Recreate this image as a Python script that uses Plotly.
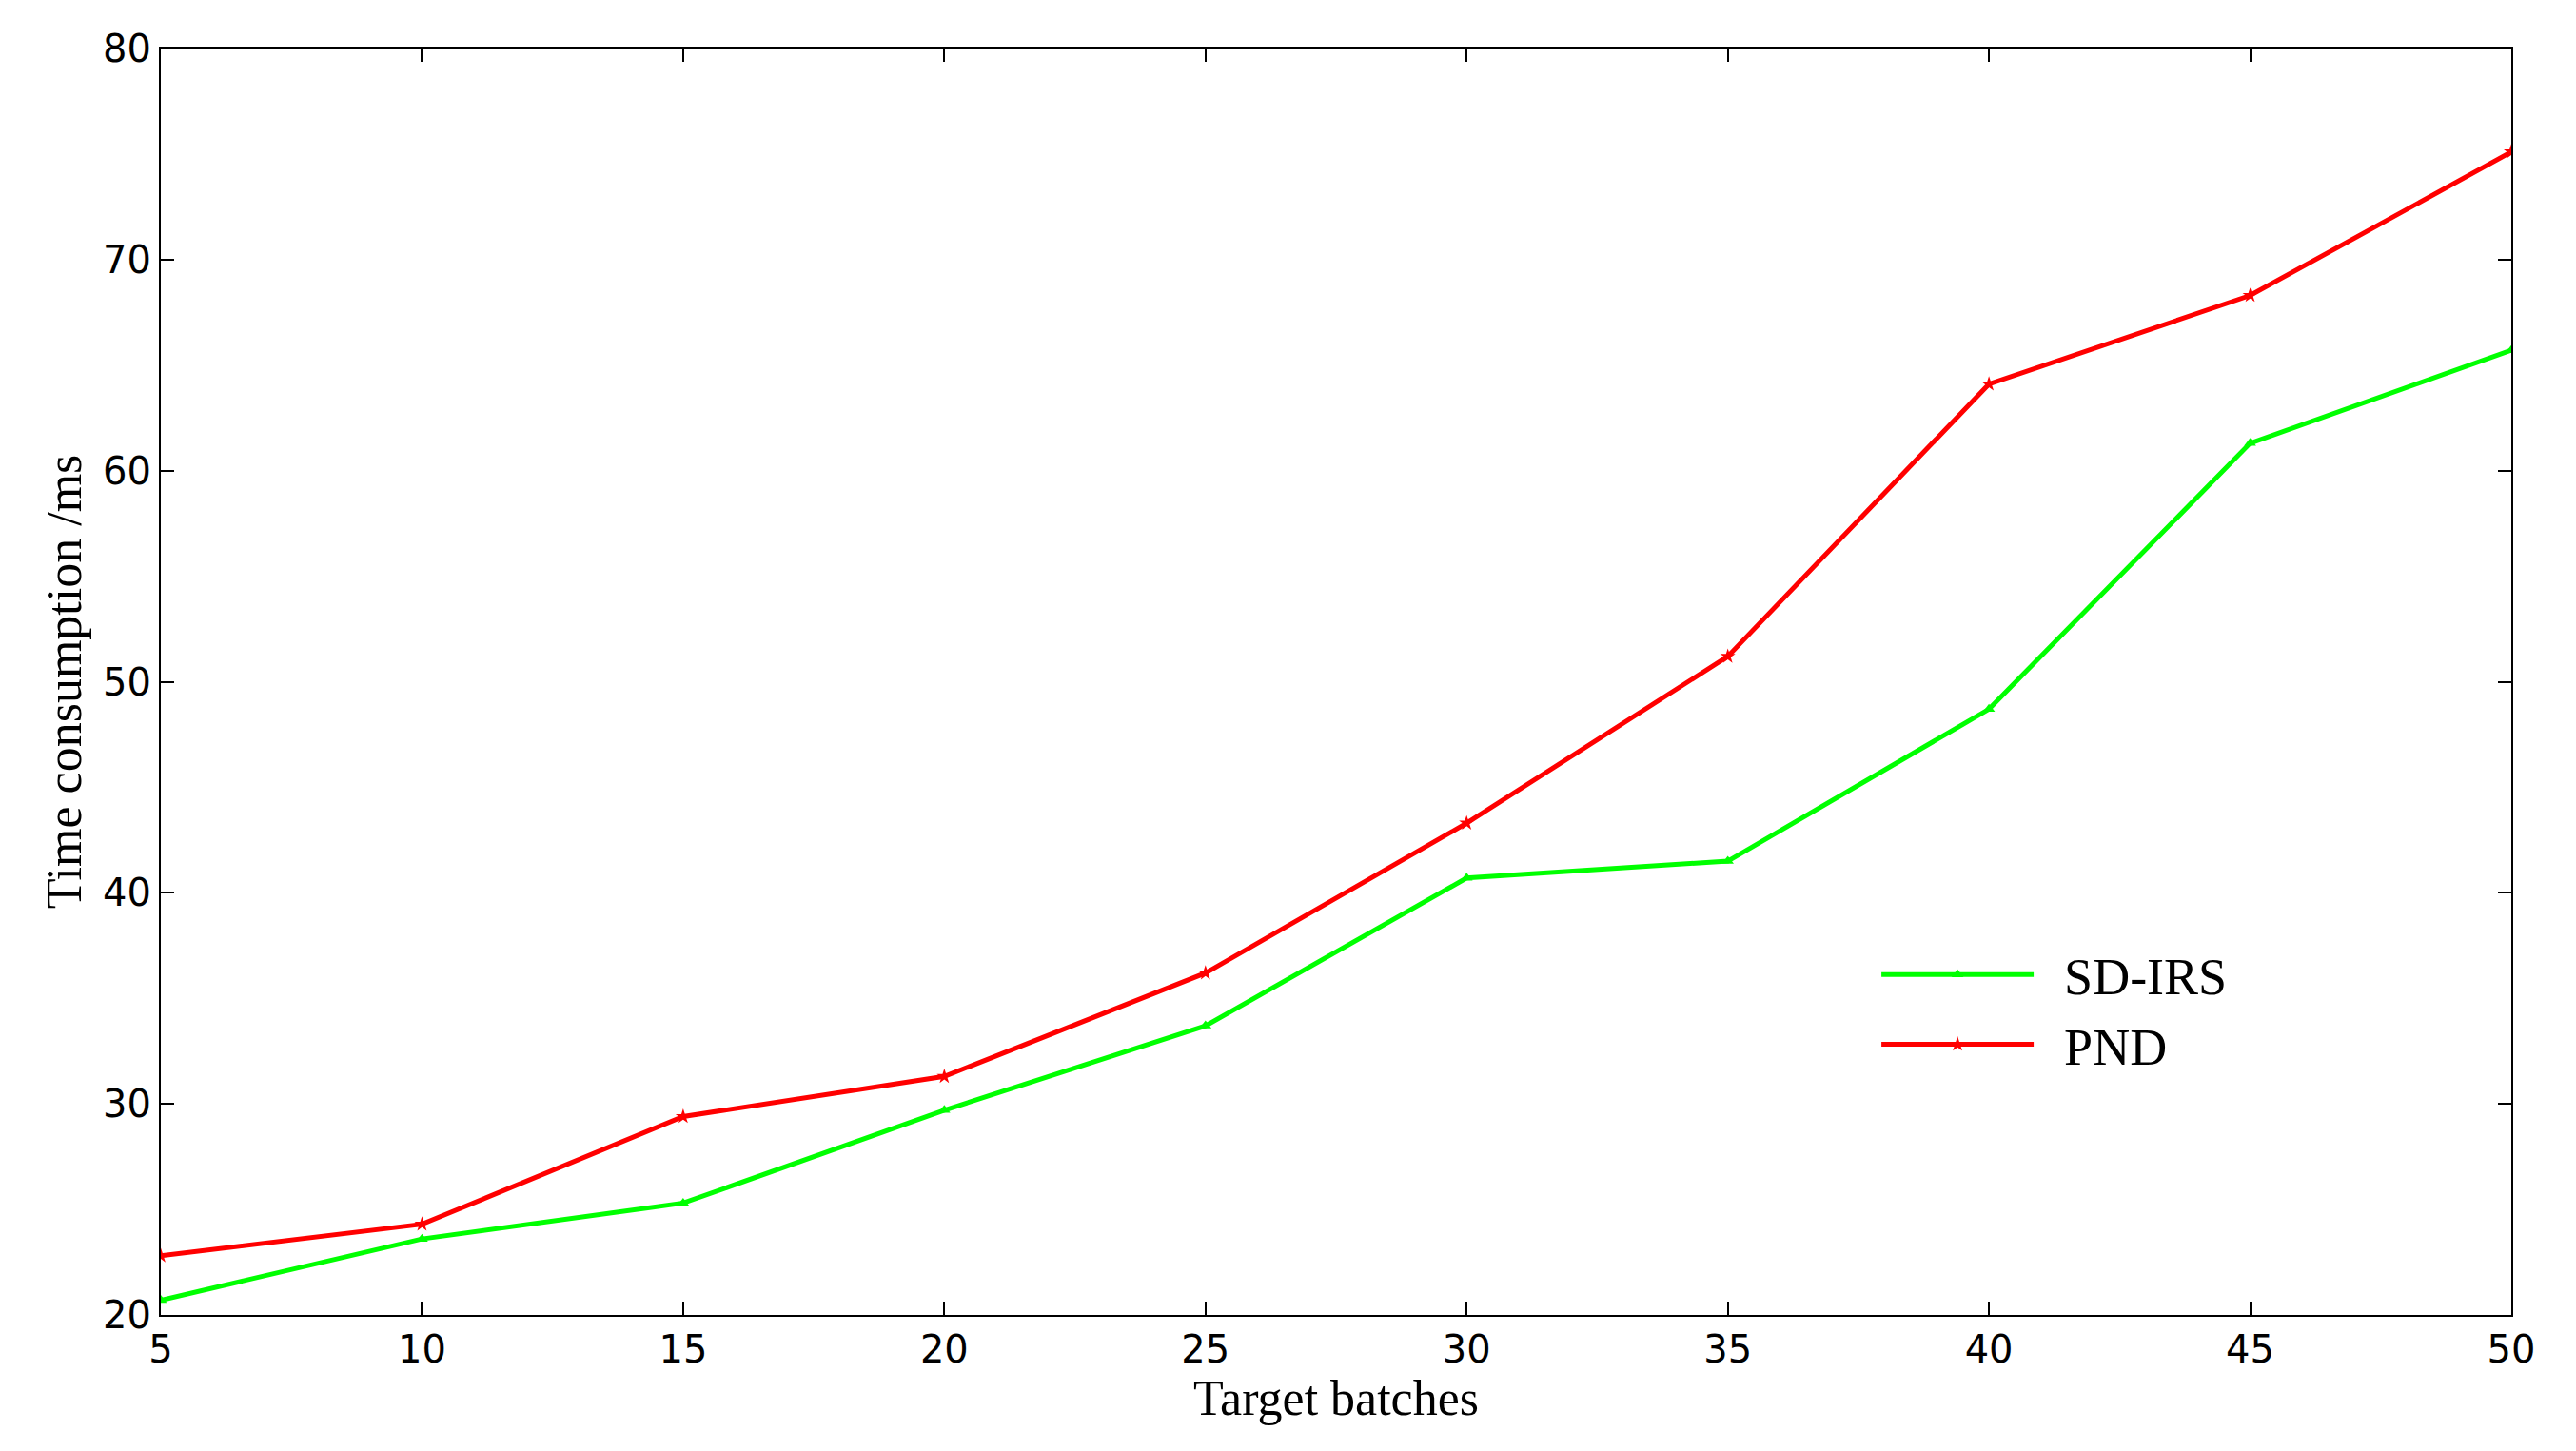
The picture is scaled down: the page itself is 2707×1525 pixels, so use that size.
import plotly.graph_objects as go

batches = [5, 10, 15, 20, 25, 30, 35, 40, 45, 50]
sd_irs = [20.7, 23.6, 25.3, 29.7, 33.7, 40.7, 41.5, 48.7, 61.3, 65.7]
pnd = [22.8, 24.3, 29.4, 31.3, 36.2, 43.3, 51.2, 64.1, 68.3, 75.1]

GREEN = '#00ff00'
RED = '#ff0000'

fig = go.Figure()
fig.add_trace(go.Scatter(x=batches, y=sd_irs, mode='lines+markers', name='  SD-IRS',
                         line=dict(color=GREEN, width=5),
                         marker=dict(symbol='triangle-up', size=11, color=GREEN)))
fig.add_trace(go.Scatter(x=batches, y=pnd, mode='lines+markers', name='  PND',
                         line=dict(color=RED, width=5),
                         marker=dict(symbol='star', size=12, color=RED)))

axis_style = dict(showline=True, mirror='ticks', linecolor='black', linewidth=2,
                  ticks='inside', ticklen=14, tickwidth=2, tickcolor='black',
                  showgrid=False, zeroline=False,
                  tickfont=dict(family='DejaVu Sans', size=40, color='black'))

fig.update_xaxes(range=[5, 50], tickvals=batches, **axis_style,
                 title=dict(text='Target batches', standoff=0,
                            font=dict(family='Liberation Serif', size=52, color='black')))
fig.update_yaxes(range=[20, 80], dtick=10, **axis_style,
                 title=dict(text='Time consumption /ms', standoff=6,
                            font=dict(family='Liberation Serif', size=52, color='black')))

fig.update_layout(
    width=2707, height=1525,
    plot_bgcolor='white', paper_bgcolor='white',
    margin=dict(l=161, r=76, t=43, b=151),
    legend=dict(x=0.73, y=0.3, xanchor='left', yanchor='top',
                bgcolor='rgba(0,0,0,0)', itemwidth=160,
                font=dict(family='Liberation Serif', size=54, color='black'),
                tracegroupgap=20),
)

fig.write_html("out.html")
